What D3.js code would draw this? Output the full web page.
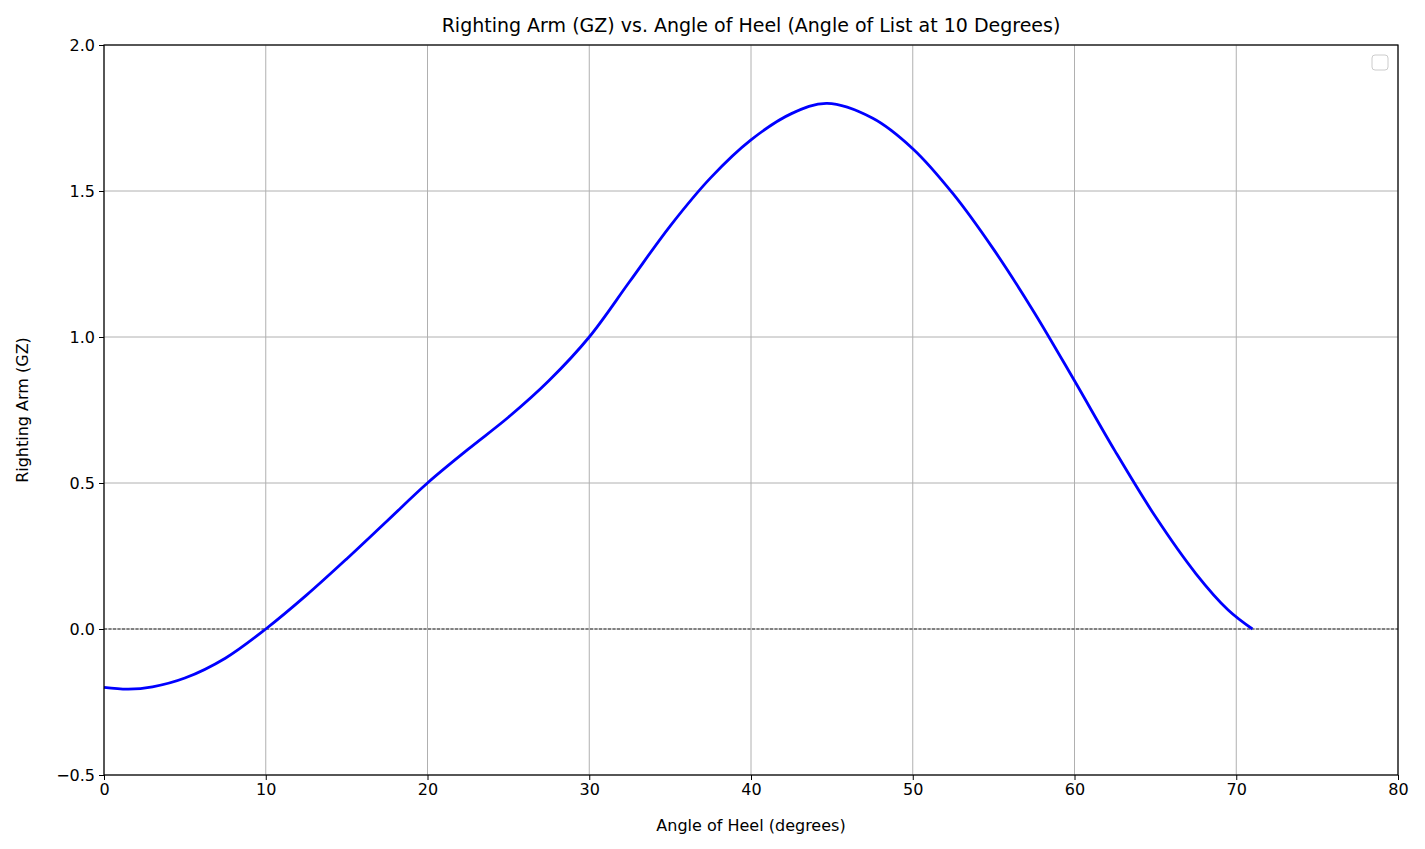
<!DOCTYPE html>
<html><head><meta charset="utf-8">
<script src="https://cdn.jsdelivr.net/npm/d3@7"></script>
<style>body{margin:0;background:#fff;font-family:"DejaVu Sans",sans-serif;}</style>
</head><body><svg id="c" width="1425" height="849"></svg>
<script>
const heelAngles = [0, 1.5, 3, 5, 7.5, 10, 12.5, 15, 17.5, 20, 22.5, 25, 27.5, 30, 32.5, 35, 37.5, 40, 42.5, 44.7, 47.5, 50, 52.5, 55, 57.5, 60, 62.5, 65, 67.5, 69.5, 71];
const gzValues   = [-0.2, -0.206, -0.198, -0.168, -0.1, 0, 0.115, 0.24, 0.37, 0.5, 0.615, 0.725, 0.85, 1.0, 1.19, 1.38, 1.545, 1.675, 1.765, 1.8, 1.75, 1.645, 1.49, 1.3, 1.085, 0.85, 0.61, 0.385, 0.19, 0.065, 0];
const xTicks = [0,10,20,30,40,50,60,70,80];
const yTicks = [-0.5,0,0.5,1,1.5,2];

const svg = d3.select("#c");
const L=104,R=1398,T=45,B=775;
const x = d3.scaleLinear().domain([0,80]).range([L,R]);
const y = d3.scaleLinear().domain([-0.5,2]).range([B,T]);
const g = svg.append("g");
g.selectAll(".gx").data(xTicks).join("line").attr("x1",d=>x(d)).attr("x2",d=>x(d)).attr("y1",T).attr("y2",B).attr("stroke","#b0b0b0").attr("stroke-width",1);
g.selectAll(".gy").data(yTicks).join("line").attr("y1",d=>y(d)).attr("y2",d=>y(d)).attr("x1",L).attr("x2",R).attr("stroke","#b0b0b0").attr("stroke-width",1);
g.append("line").attr("x1",L).attr("x2",R).attr("y1",y(0)).attr("y2",y(0)).attr("stroke","#000").attr("stroke-width",0.8).attr("stroke-dasharray","3,1.5");
const pts = heelAngles.map((a,i)=>[a,gzValues[i]]);
g.append("path").datum(pts).attr("fill","none").attr("stroke","#0000ff").attr("stroke-width",2.8)
 .attr("d",d3.line().x(d=>x(d[0])).y(d=>y(d[1])).curve(d3.curveCatmullRom.alpha(0.5)));
const xa = svg.append("g").attr("transform",`translate(0,${B})`).call(d3.axisBottom(x).tickValues(xTicks).tickSize(5).tickPadding(4).tickFormat(d3.format("d")));
const ya = svg.append("g").attr("transform",`translate(${L},0)`).call(d3.axisLeft(y).tickValues(yTicks).tickSize(5).tickPadding(4).tickFormat(d=>(d<0?"\u2212":"")+Math.abs(d).toFixed(1)));
[xa,ya].forEach(a=>{a.selectAll("text").attr("font-size",16).attr("fill","#000").attr("font-family","DejaVu Sans");a.select(".domain").remove();});
svg.append("rect").attr("x",L).attr("y",T).attr("width",R-L).attr("height",B-T).attr("fill","none").attr("stroke","#000").attr("stroke-width",1.2);
svg.append("rect").attr("x",1372).attr("y",55).attr("width",16).attr("height",15).attr("rx",3).attr("fill","#fff").attr("stroke","#ccc");
svg.append("text").attr("x",(L+R)/2).attr("y",32).attr("text-anchor","middle").attr("font-size",19).text("Righting Arm (GZ) vs. Angle of Heel (Angle of List at 10 Degrees)");
svg.append("text").attr("x",(L+R)/2).attr("y",831).attr("text-anchor","middle").attr("font-size",16).text("Angle of Heel (degrees)");
svg.append("text").attr("transform",`translate(28,${(T+B)/2}) rotate(-90)`).attr("text-anchor","middle").attr("font-size",16).text("Righting Arm (GZ)");
</script></body></html>
